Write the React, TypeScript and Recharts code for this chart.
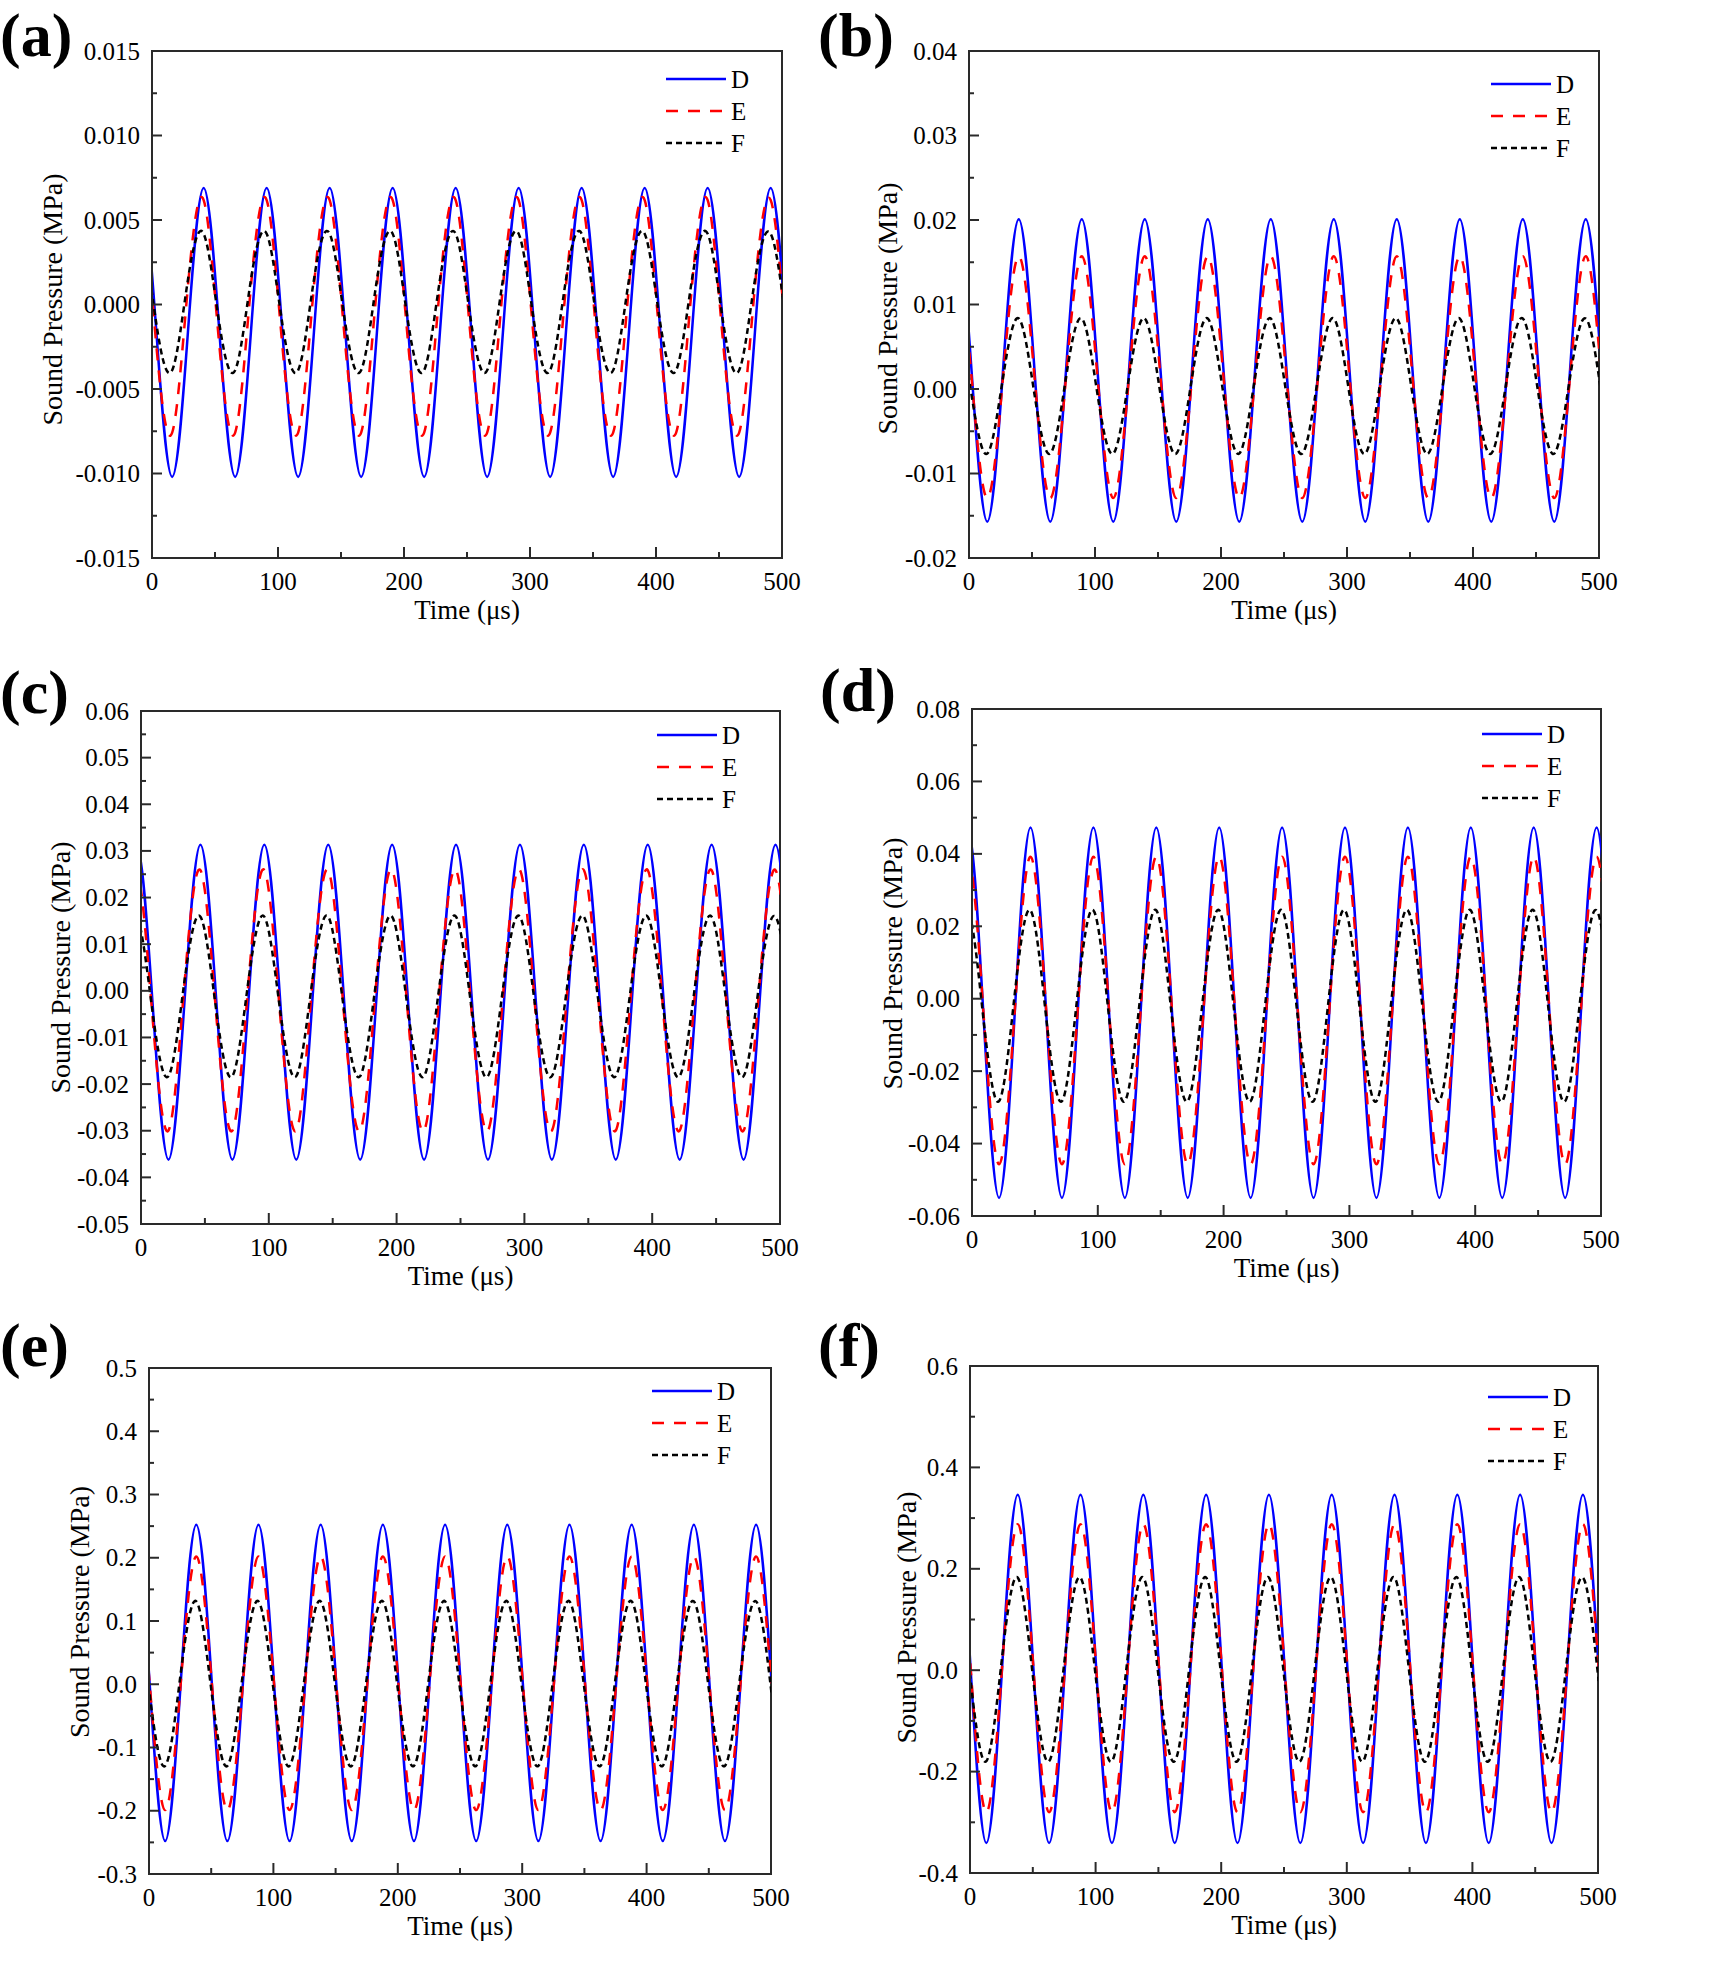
import React from 'react';
import { LineChart, Line, XAxis, YAxis, Legend, ReferenceArea } from 'recharts';

const FONT = '"Liberation Serif", "Times New Roman", Times, serif';
const AXIS = '#2a2a2a';

// ---- time grids (µs), one sample every quarter period of D ----
const TIME_A = [
  -21.5, -9, 3.5, 16, 28.5, 41, 53.5, 66, 78.5, 91, 103.5, 116, 128.5, 141, 153.5, 166,
  178.5, 191, 203.5, 216, 228.5, 241, 253.5, 266, 278.5, 291, 303.5, 316, 328.5, 341, 353.5, 366,
  378.5, 391, 403.5, 416, 428.5, 441, 453.5, 466, 478.5, 491, 503.5,
];
const TIME_B = [
  -23, -10.5, 2, 14.5, 27, 39.5, 52, 64.5, 77, 89.5, 102, 114.5, 127, 139.5, 152, 164.5,
  177, 189.5, 202, 214.5, 227, 239.5, 252, 264.5, 277, 289.5, 302, 314.5, 327, 339.5, 352, 364.5,
  377, 389.5, 402, 414.5, 427, 439.5, 452, 464.5, 477, 489.5, 502,
];
const TIME_CD = [
  -16, -3.5, 9, 21.5, 34, 46.5, 59, 71.5, 84, 96.5, 109, 121.5, 134, 146.5, 159, 171.5,
  184, 196.5, 209, 221.5, 234, 246.5, 259, 271.5, 284, 296.5, 309, 321.5, 334, 346.5, 359, 371.5,
  384, 396.5, 409, 421.5, 434, 446.5, 459, 471.5, 484, 496.5, 509,
];
const TIME_EF = [
  -24.5, -12, 0.5, 13, 25.5, 38, 50.5, 63, 75.5, 88, 100.5, 113, 125.5, 138, 150.5, 163,
  175.5, 188, 200.5, 213, 225.5, 238, 250.5, 263, 275.5, 288, 300.5, 313, 325.5, 338, 350.5, 363,
  375.5, 388, 400.5, 413, 425.5, 438, 450.5, 463, 475.5, 488, 500.5,
];

// ---- panel (a) ----
const D_A = [
  -0.00165, 0.0069, -0.00165, -0.0102, -0.00165, 0.0069, -0.00165, -0.0102,
  -0.00165, 0.0069, -0.00165, -0.0102, -0.00165, 0.0069, -0.00165, -0.0102,
  -0.00165, 0.0069, -0.00165, -0.0102, -0.00165, 0.0069, -0.00165, -0.0102,
  -0.00165, 0.0069, -0.00165, -0.0102, -0.00165, 0.0069, -0.00165, -0.0102,
  -0.00165, 0.0069, -0.00165, -0.0102, -0.00165, 0.0069, -0.00165, -0.0102,
  -0.00165, 0.0069, -0.00165,
];
const E_A = [
  0.00107, 0.00618, -0.00247, -0.00758, 0.00107, 0.00618, -0.00247, -0.00758,
  0.00107, 0.00618, -0.00247, -0.00758, 0.00107, 0.00618, -0.00247, -0.00758,
  0.00107, 0.00618, -0.00247, -0.00758, 0.00107, 0.00618, -0.00247, -0.00758,
  0.00107, 0.00618, -0.00247, -0.00758, 0.00107, 0.00618, -0.00247, -0.00758,
  0.00107, 0.00618, -0.00247, -0.00758, 0.00107, 0.00618, -0.00247, -0.00758,
  0.00107, 0.00618, -0.00247,
];
const F_A = [
  0.00146, 0.00419, -0.00116, -0.00389, 0.00146, 0.00419, -0.00116, -0.00389,
  0.00146, 0.00419, -0.00116, -0.00389, 0.00146, 0.00419, -0.00116, -0.00389,
  0.00146, 0.00419, -0.00116, -0.00389, 0.00146, 0.00419, -0.00116, -0.00389,
  0.00146, 0.00419, -0.00116, -0.00389, 0.00146, 0.00419, -0.00116, -0.00389,
  0.00146, 0.00419, -0.00116, -0.00389, 0.00146, 0.00419, -0.00116, -0.00389,
  0.00146, 0.00419, -0.00116,
];

// ---- panel (b) ----
const D_B = [
  0.0022, 0.0201, 0.0022, -0.0157, 0.0022, 0.0201, 0.0022, -0.0157,
  0.0022, 0.0201, 0.0022, -0.0157, 0.0022, 0.0201, 0.0022, -0.0157,
  0.0022, 0.0201, 0.0022, -0.0157, 0.0022, 0.0201, 0.0022, -0.0157,
  0.0022, 0.0201, 0.0022, -0.0157, 0.0022, 0.0201, 0.0022, -0.0157,
  0.0022, 0.0201, 0.0022, -0.0157, 0.0022, 0.0201, 0.0022, -0.0157,
  0.0022, 0.0201, 0.0022,
];
const E_B = [
  0.0014, 0.0157, 0.0014, -0.0129, 0.0014, 0.0157, 0.0014, -0.0129,
  0.0014, 0.0157, 0.0014, -0.0129, 0.0014, 0.0157, 0.0014, -0.0129,
  0.0014, 0.0157, 0.0014, -0.0129, 0.0014, 0.0157, 0.0014, -0.0129,
  0.0014, 0.0157, 0.0014, -0.0129, 0.0014, 0.0157, 0.0014, -0.0129,
  0.0014, 0.0157, 0.0014, -0.0129, 0.0014, 0.0157, 0.0014, -0.0129,
  0.0014, 0.0157, 0.0014,
];
const F_B = [
  0.00136, 0.00834, -0.00066, -0.00764, 0.00136, 0.00834, -0.00066, -0.00764,
  0.00136, 0.00834, -0.00066, -0.00764, 0.00136, 0.00834, -0.00066, -0.00764,
  0.00136, 0.00834, -0.00066, -0.00764, 0.00136, 0.00834, -0.00066, -0.00764,
  0.00136, 0.00834, -0.00066, -0.00764, 0.00136, 0.00834, -0.00066, -0.00764,
  0.00136, 0.00834, -0.00066, -0.00764, 0.00136, 0.00834, -0.00066, -0.00764,
  0.00136, 0.00834, -0.00066,
];

// ---- panel (c) ----
const D_C = [
  -0.00245, 0.0313, -0.00245, -0.0362, -0.00245, 0.0313, -0.00245, -0.0362,
  -0.00245, 0.0313, -0.00245, -0.0362, -0.00245, 0.0313, -0.00245, -0.0362,
  -0.00245, 0.0313, -0.00245, -0.0362, -0.00245, 0.0313, -0.00245, -0.0362,
  -0.00245, 0.0313, -0.00245, -0.0362, -0.00245, 0.0313, -0.00245, -0.0362,
  -0.00245, 0.0313, -0.00245, -0.0362, -0.00245, 0.0313, -0.00245, -0.0362,
  -0.00245, 0.0313, -0.00245,
];
const E_C = [
  0.00147, 0.02587, -0.00557, -0.02997, 0.00147, 0.02587, -0.00557, -0.02997,
  0.00147, 0.02587, -0.00557, -0.02997, 0.00147, 0.02587, -0.00557, -0.02997,
  0.00147, 0.02587, -0.00557, -0.02997, 0.00147, 0.02587, -0.00557, -0.02997,
  0.00147, 0.02587, -0.00557, -0.02997, 0.00147, 0.02587, -0.00557, -0.02997,
  0.00147, 0.02587, -0.00557, -0.02997, 0.00147, 0.02587, -0.00557, -0.02997,
  0.00147, 0.02587, -0.00557,
];
const F_C = [
  0.00205, 0.01589, -0.00445, -0.01829, 0.00205, 0.01589, -0.00445, -0.01829,
  0.00205, 0.01589, -0.00445, -0.01829, 0.00205, 0.01589, -0.00445, -0.01829,
  0.00205, 0.01589, -0.00445, -0.01829, 0.00205, 0.01589, -0.00445, -0.01829,
  0.00205, 0.01589, -0.00445, -0.01829, 0.00205, 0.01589, -0.00445, -0.01829,
  0.00205, 0.01589, -0.00445, -0.01829, 0.00205, 0.01589, -0.00445, -0.01829,
  0.00205, 0.01589, -0.00445,
];

// ---- panel (d) ----
const D_D = [
  -0.00385, 0.0473, -0.00385, -0.055, -0.00385, 0.0473, -0.00385, -0.055,
  -0.00385, 0.0473, -0.00385, -0.055, -0.00385, 0.0473, -0.00385, -0.055,
  -0.00385, 0.0473, -0.00385, -0.055, -0.00385, 0.0473, -0.00385, -0.055,
  -0.00385, 0.0473, -0.00385, -0.055, -0.00385, 0.0473, -0.00385, -0.055,
  -0.00385, 0.0473, -0.00385, -0.055, -0.00385, 0.0473, -0.00385, -0.055,
  -0.00385, 0.0473, -0.00385,
];
const E_D = [
  -0.00325, 0.0392, -0.00325, -0.0457, -0.00325, 0.0392, -0.00325, -0.0457,
  -0.00325, 0.0392, -0.00325, -0.0457, -0.00325, 0.0392, -0.00325, -0.0457,
  -0.00325, 0.0392, -0.00325, -0.0457, -0.00325, 0.0392, -0.00325, -0.0457,
  -0.00325, 0.0392, -0.00325, -0.0457, -0.00325, 0.0392, -0.00325, -0.0457,
  -0.00325, 0.0392, -0.00325, -0.0457, -0.00325, 0.0392, -0.00325, -0.0457,
  -0.00325, 0.0392, -0.00325,
];
const F_D = [
  0.00137, 0.02439, -0.00527, -0.02829, 0.00137, 0.02439, -0.00527, -0.02829,
  0.00137, 0.02439, -0.00527, -0.02829, 0.00137, 0.02439, -0.00527, -0.02829,
  0.00137, 0.02439, -0.00527, -0.02829, 0.00137, 0.02439, -0.00527, -0.02829,
  0.00137, 0.02439, -0.00527, -0.02829, 0.00137, 0.02439, -0.00527, -0.02829,
  0.00137, 0.02439, -0.00527, -0.02829, 0.00137, 0.02439, -0.00527, -0.02829,
  0.00137, 0.02439, -0.00527,
];

// ---- panel (e) ----
const D_E = [
  0.002, 0.252, 0.002, -0.248, 0.002, 0.252, 0.002, -0.248,
  0.002, 0.252, 0.002, -0.248, 0.002, 0.252, 0.002, -0.248,
  0.002, 0.252, 0.002, -0.248, 0.002, 0.252, 0.002, -0.248,
  0.002, 0.252, 0.002, -0.248, 0.002, 0.252, 0.002, -0.248,
  0.002, 0.252, 0.002, -0.248, 0.002, 0.252, 0.002, -0.248,
  0.002, 0.252, 0.002,
];
const E_E = [
  0.0015, 0.202, 0.0015, -0.199, 0.0015, 0.202, 0.0015, -0.199,
  0.0015, 0.202, 0.0015, -0.199, 0.0015, 0.202, 0.0015, -0.199,
  0.0015, 0.202, 0.0015, -0.199, 0.0015, 0.202, 0.0015, -0.199,
  0.0015, 0.202, 0.0015, -0.199, 0.0015, 0.202, 0.0015, -0.199,
  0.0015, 0.202, 0.0015, -0.199, 0.0015, 0.202, 0.0015, -0.199,
  0.0015, 0.202, 0.0015,
];
const F_E = [
  0.0174, 0.131, -0.0154, -0.129, 0.0174, 0.131, -0.0154, -0.129,
  0.0174, 0.131, -0.0154, -0.129, 0.0174, 0.131, -0.0154, -0.129,
  0.0174, 0.131, -0.0154, -0.129, 0.0174, 0.131, -0.0154, -0.129,
  0.0174, 0.131, -0.0154, -0.129, 0.0174, 0.131, -0.0154, -0.129,
  0.0174, 0.131, -0.0154, -0.129, 0.0174, 0.131, -0.0154, -0.129,
  0.0174, 0.131, -0.0154,
];

// ---- panel (f) ----
const D_F = [
  0.0025, 0.346, 0.0025, -0.341, 0.0025, 0.346, 0.0025, -0.341,
  0.0025, 0.346, 0.0025, -0.341, 0.0025, 0.346, 0.0025, -0.341,
  0.0025, 0.346, 0.0025, -0.341, 0.0025, 0.346, 0.0025, -0.341,
  0.0025, 0.346, 0.0025, -0.341, 0.0025, 0.346, 0.0025, -0.341,
  0.0025, 0.346, 0.0025, -0.341, 0.0025, 0.346, 0.0025, -0.341,
  0.0025, 0.346, 0.0025,
];
const E_F = [
  0.004, 0.288, 0.004, -0.28, 0.004, 0.288, 0.004, -0.28,
  0.004, 0.288, 0.004, -0.28, 0.004, 0.288, 0.004, -0.28,
  0.004, 0.288, 0.004, -0.28, 0.004, 0.288, 0.004, -0.28,
  0.004, 0.288, 0.004, -0.28, 0.004, 0.288, 0.004, -0.28,
  0.004, 0.288, 0.004, -0.28, 0.004, 0.288, 0.004, -0.28,
  0.004, 0.288, 0.004,
];
const F_F = [
  0.0243, 0.1825, -0.0213, -0.1795, 0.0243, 0.1825, -0.0213, -0.1795,
  0.0243, 0.1825, -0.0213, -0.1795, 0.0243, 0.1825, -0.0213, -0.1795,
  0.0243, 0.1825, -0.0213, -0.1795, 0.0243, 0.1825, -0.0213, -0.1795,
  0.0243, 0.1825, -0.0213, -0.1795, 0.0243, 0.1825, -0.0213, -0.1795,
  0.0243, 0.1825, -0.0213, -0.1795, 0.0243, 0.1825, -0.0213, -0.1795,
  0.0243, 0.1825, -0.0213,
];

// ---- ticks ----
const X_MAJOR = [0, 100, 200, 300, 400, 500];
const X_MINOR = [50, 150, 250, 350, 450];

const Y_MAJOR_A = [-0.015, -0.01, -0.005, 0, 0.005, 0.01, 0.015];
const Y_MINOR_A = [-0.0125, -0.0075, -0.0025, 0.0025, 0.0075, 0.0125];
const Y_MAJOR_B = [-0.02, -0.01, 0, 0.01, 0.02, 0.03, 0.04];
const Y_MINOR_B = [-0.015, -0.005, 0.005, 0.015, 0.025, 0.035];
const Y_MAJOR_C = [-0.05, -0.04, -0.03, -0.02, -0.01, 0, 0.01, 0.02, 0.03, 0.04, 0.05, 0.06];
const Y_MINOR_C = [-0.045, -0.035, -0.025, -0.015, -0.005, 0.005, 0.015, 0.025, 0.035, 0.045, 0.055];
const Y_MAJOR_D = [-0.06, -0.04, -0.02, 0, 0.02, 0.04, 0.06, 0.08];
const Y_MINOR_D = [-0.05, -0.03, -0.01, 0.01, 0.03, 0.05, 0.07];
const Y_MAJOR_E = [-0.3, -0.2, -0.1, 0, 0.1, 0.2, 0.3, 0.4, 0.5];
const Y_MINOR_E = [-0.25, -0.15, -0.05, 0.05, 0.15, 0.25, 0.35, 0.45];
const Y_MAJOR_F = [-0.4, -0.2, 0, 0.2, 0.4, 0.6];
const Y_MINOR_F = [-0.3, -0.1, 0.1, 0.3, 0.5];

const SERIES_NAMES = ['D', 'E', 'F'];
const X_TITLE = 'Time (μs)';
const Y_TITLE = 'Sound Pressure (MPa)';

// ---- styles ----
const SERIES_STYLE: Record<string, { color: string; dash?: string }> = {
  D: { color: '#0000FF' },
  E: { color: '#FF0000', dash: '12 10' },
  F: { color: '#000000', dash: '6 4' },
};

const PANELS = [
  {
    label: '(a)', time: TIME_A, D: D_A, E: E_A, F: F_A, yDomain: [-0.015, 0.015], yMajor: Y_MAJOR_A, yMinor: Y_MINOR_A, decimals: 3,
    plot: { l: 152, t: 51, r: 782, b: 558 }, legend: { x: 666, y: 79 }, yLab: { dx: -25, dy: -5 }, tag: { x: 0, y: 56 },
  },
  {
    label: '(b)', time: TIME_B, D: D_B, E: E_B, F: F_B, yDomain: [-0.02, 0.04], yMajor: Y_MAJOR_B, yMinor: Y_MINOR_B, decimals: 2,
    plot: { l: 969, t: 51, r: 1599, b: 558 }, legend: { x: 1491, y: 84 }, yLab: { dx: -7, dy: 4 }, tag: { x: 818, y: 56 },
  },
  {
    label: '(c)', time: TIME_CD, D: D_C, E: E_C, F: F_C, yDomain: [-0.05, 0.06], yMajor: Y_MAJOR_C, yMinor: Y_MINOR_C, decimals: 2,
    plot: { l: 141, t: 711, r: 780, b: 1224 }, legend: { x: 657, y: 735 }, yLab: { dx: -6, dy: 0 }, tag: { x: 0, y: 713 },
  },
  {
    label: '(d)', time: TIME_CD, D: D_D, E: E_D, F: F_D, yDomain: [-0.06, 0.08], yMajor: Y_MAJOR_D, yMinor: Y_MINOR_D, decimals: 2,
    plot: { l: 972, t: 709, r: 1601, b: 1216 }, legend: { x: 1482, y: 734 }, yLab: { dx: -5, dy: 1 }, tag: { x: 820, y: 711 },
  },
  {
    label: '(e)', time: TIME_EF, D: D_E, E: E_E, F: F_E, yDomain: [-0.3, 0.5], yMajor: Y_MAJOR_E, yMinor: Y_MINOR_E, decimals: 1,
    plot: { l: 149, t: 1368, r: 771, b: 1874 }, legend: { x: 652, y: 1391 }, yLab: { dx: 5, dy: -9 }, tag: { x: 0, y: 1366 },
  },
  {
    label: '(f)', time: TIME_EF, D: D_F, E: E_F, F: F_F, yDomain: [-0.4, 0.6], yMajor: Y_MAJOR_F, yMinor: Y_MINOR_F, decimals: 1,
    plot: { l: 970, t: 1366, r: 1598, b: 1873 }, legend: { x: 1488, y: 1397 }, yLab: { dx: 11, dy: -2 }, tag: { x: 818, y: 1366 },
  },
];

const isIn = (arr: number[], v: number) => arr.some((m) => Math.abs(m - v) < 1e-9);

function XTick(props: any) {
  const { x, y, payload } = props;
  const major = isIn(X_MAJOR, payload.value);
  return (
    <g>
      <line x1={x} y1={y} x2={x} y2={y - (major ? 11 : 6)} stroke={AXIS} strokeWidth={2} />
      {major && (
        <text x={x} y={y + 32} textAnchor="middle" fontSize={25} fontFamily={FONT} fill="#000">
          {String(payload.value)}
        </text>
      )}
    </g>
  );
}

function YTick(props: any) {
  const { x, y, payload, majors, decimals } = props;
  const major = isIn(majors, payload.value);
  return (
    <g>
      <line x1={x} y1={y} x2={x + (major ? 10 : 5)} y2={y} stroke={AXIS} strokeWidth={2} />
      {major && (
        <text x={x - 12} y={y + 8.5} textAnchor="end" fontSize={25} fontFamily={FONT} fill="#000">
          {Number(payload.value).toFixed(decimals)}
        </text>
      )}
    </g>
  );
}

function LegendBox(props: any) {
  const items = props.payload ?? [];
  return (
    <svg width={110} height={100} style={{ display: 'block', overflow: 'visible' }}>
      {items.map((it: any, i: number) => {
        const st = SERIES_STYLE[String(it.value)] ?? { color: it.color };
        const cy = 12 + 32 * i;
        return (
          <g key={String(it.value)}>
            <line x1={0} x2={60} y1={cy} y2={cy} stroke={st.color} strokeWidth={2.5} strokeDasharray={st.dash} />
            <text x={65} y={cy + 9} fontSize={25} fontFamily={FONT} fill="#000">
              {it.value}
            </text>
          </g>
        );
      })}
    </svg>
  );
}

function Panel({ cfg }: { cfg: any }) {
  const ML = 150;
  const MT = 20;
  const MR = 40;
  const XH = 90;
  const W = cfg.plot.r - cfg.plot.l;
  const H = cfg.plot.b - cfg.plot.t;
  const left = cfg.plot.l - ML;
  const top = cfg.plot.t - MT;
  const data = cfg.time.map((t: number, i: number) => ({ t, D: cfg.D[i], E: cfg.E[i], F: cfg.F[i] }));
  const xTicks = [...X_MAJOR, ...X_MINOR].sort((a, b) => a - b);
  const yTicks = [...cfg.yMajor, ...cfg.yMinor].sort((a: number, b: number) => a - b);
  return (
    <div style={{ position: 'absolute', left, top }}>
      <LineChart width={ML + W + MR} height={MT + H + XH} data={data} margin={{ top: MT, right: MR, left: 0, bottom: 0 }}>
        <XAxis
          dataKey="t"
          type="number"
          domain={[0, 500]}
          allowDataOverflow
          ticks={xTicks}
          interval={0}
          height={XH}
          tickSize={0}
          tickMargin={0}
          tickLine={false}
          axisLine={{ stroke: AXIS, strokeWidth: 2 }}
          tick={<XTick />}
          label={{ value: X_TITLE, position: 'center', dy: 6, fontSize: 27, fontFamily: FONT, fill: '#000' }}
        />
        <YAxis
          type="number"
          domain={cfg.yDomain}
          allowDataOverflow
          ticks={yTicks}
          interval={0}
          width={ML}
          tickSize={0}
          tickMargin={0}
          tickLine={false}
          axisLine={{ stroke: AXIS, strokeWidth: 2 }}
          tick={<YTick majors={cfg.yMajor} decimals={cfg.decimals} />}
          label={{
            value: Y_TITLE,
            angle: -90,
            position: 'center',
            dx: cfg.yLab.dx,
            dy: cfg.yLab.dy,
            fontSize: 28,
            fontFamily: FONT,
            fill: '#000',
          }}
        />
        <ReferenceArea
          x1={0}
          x2={500}
          y1={cfg.yDomain[0]}
          y2={cfg.yDomain[1]}
          fill="none"
          fillOpacity={0}
          stroke={AXIS}
          strokeWidth={2}
          ifOverflow="visible"
        />
        {SERIES_NAMES.map((s) => (
          <Line
            key={s}
            dataKey={s}
            name={s}
            type="natural"
            stroke={SERIES_STYLE[s].color}
            strokeWidth={2.5}
            strokeDasharray={SERIES_STYLE[s].dash}
            dot={false}
            activeDot={false}
            isAnimationActive={false}
          />
        ))}
        <Legend
          layout="vertical"
          align="center"
          verticalAlign="middle"
          content={<LegendBox />}
          wrapperStyle={{ left: cfg.legend.x - left, top: cfg.legend.y - 12 - top, width: 110, height: 100 }}
        />
      </LineChart>
    </div>
  );
}

export default function App() {
  return (
    <div
      style={{
        position: 'absolute',
        left: 0,
        top: 0,
        width: 1717,
        height: 1981,
        background: '#fff',
        overflow: 'hidden',
        fontFamily: FONT,
      }}
    >
      {PANELS.map((p) => (
        <Panel key={p.label} cfg={p} />
      ))}
      <svg width={1717} height={1981} style={{ position: 'absolute', left: 0, top: 0, pointerEvents: 'none' }}>
        {PANELS.map((p) => (
          <text key={p.label} x={p.tag.x} y={p.tag.y} fontSize={62} fontWeight="bold" fontFamily={FONT} fill="#000">
            {p.label}
          </text>
        ))}
      </svg>
    </div>
  );
}
